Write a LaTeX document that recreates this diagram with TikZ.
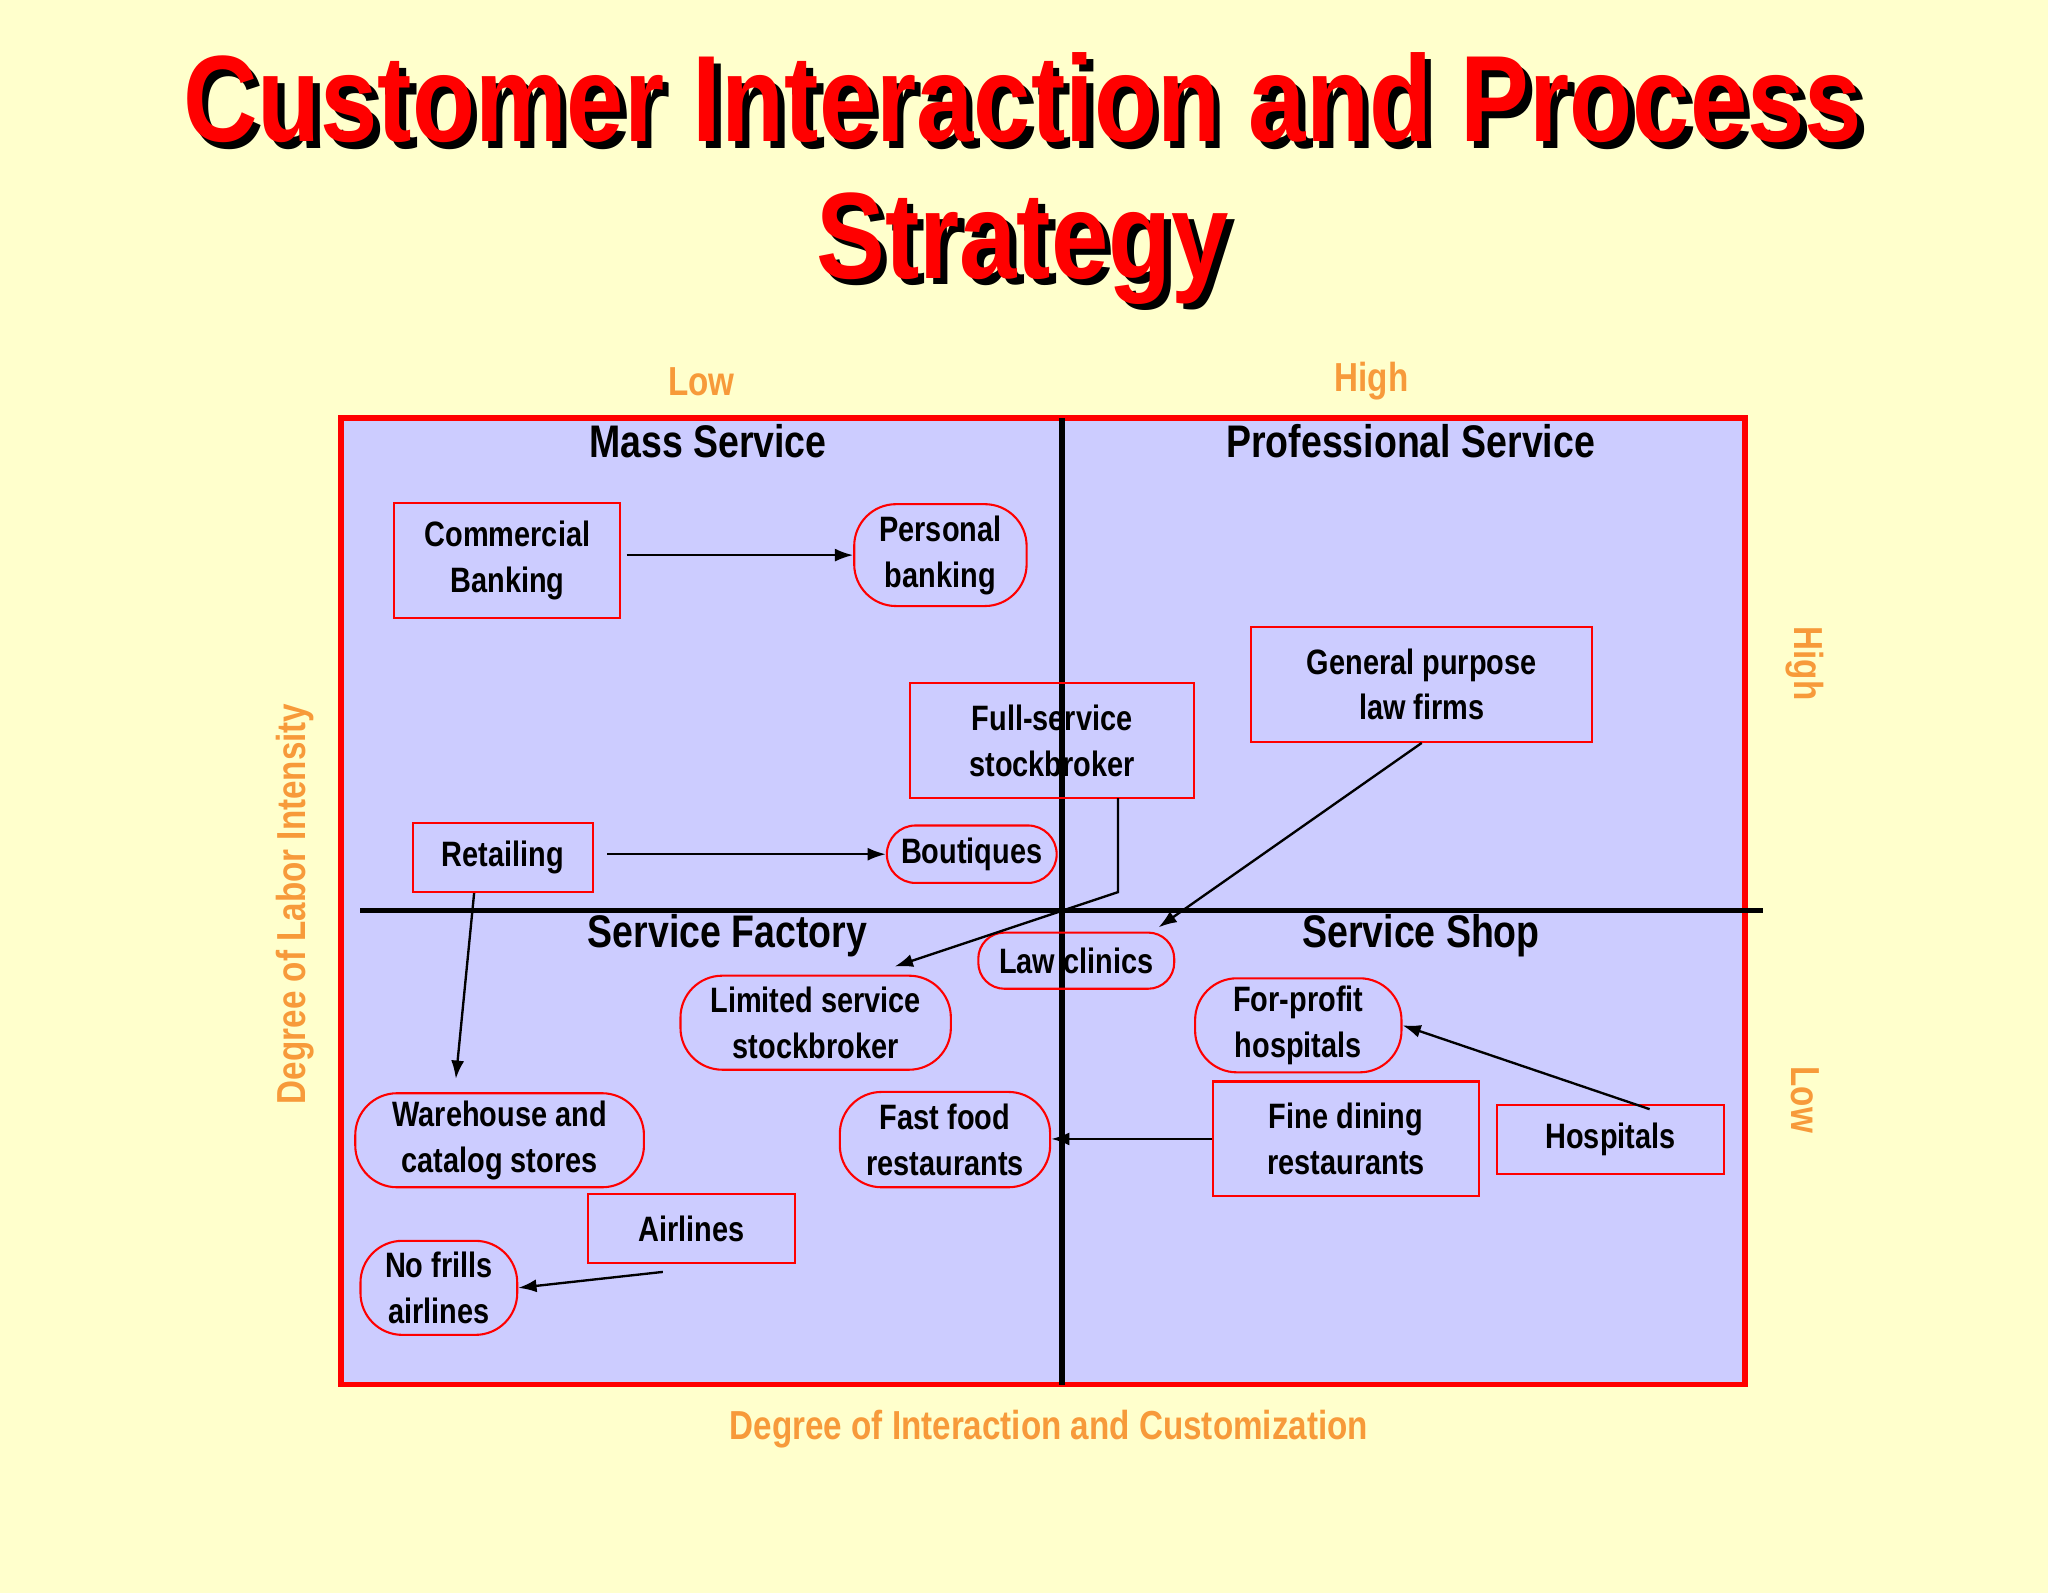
\documentclass[tikz,border=0pt]{standalone}
\usepackage{fontspec}
\setmainfont{Liberation Sans}[FakeStretch=0.82]
\newfontfamily\titlefont{Liberation Sans}[FakeStretch=0.84]
\usetikzlibrary{arrows.meta}
\definecolor{bg}{HTML}{FFFFCC}
\definecolor{lav}{HTML}{CCCCFF}
\definecolor{org}{HTML}{F79A3A}
\definecolor{tred}{HTML}{FF0000}
\tikzset{
 base/.style={draw=red, line width=0.8pt, align=center, inner sep=0pt, font=\fontsize{13.5}{17.5}\selectfont\bfseries},
 rbox/.style={base},
 obox/.style={base, rounded corners=16pt},
 arr/.style={-{Latex[length=7pt,width=5pt]}, line width=0.9pt},
 ax/.style={text=org, font=\fontsize{15.5}{18}\selectfont\bfseries},
 quad/.style={font=\fontsize{17.5}{20}\selectfont\bfseries},
 ttl/.style={font=\titlefont\fontsize{47}{50}\selectfont\bfseries}
}
\begin{document}
\begin{tikzpicture}[x=0.5pt,y=-0.5pt]
\fill[bg] (0,0) rectangle (1568,1220);
\useasboundingbox (0,0) rectangle (1568,1220);
% title
\node[ttl,text=black] (t1s) at (788,80) {Customer Interaction and Process};
\node[ttl,text=tred] (t1) at (783,75) {Customer Interaction and Process};
\node[ttl,text=black] (t2s) at (788,195) {Strategy};
\node[ttl,text=tred] (t2) at (783,190) {Strategy};
% frame
\draw[red, line width=2.2pt, fill=lav] (261,320) rectangle (1336,1060);
\draw[line width=2pt] (813,320) -- (813,1060);
\draw[line width=2pt] (276,697) -- (1350,697);
% axis labels
\node[ax] (lo) at (537,292) {Low};
\node[ax] (hi) at (1050,292) {High};
\node[ax,rotate=-90] (rhi) at (1382,508) {High};
\node[ax,rotate=-90] (rlo) at (1382,842) {Low};
\node[ax,rotate=90] (lab) at (226,692) {Degree of Labor Intensity};
\node[ax] (bl) at (803,1094) {Degree of Interaction and Customization};
% quadrants
\node[quad] (q1) at (542,338) {Mass Service};
\node[quad] (q2) at (1080,338) {Professional Service};
\node[quad] (q3) at (557,716) {Service Factory};
\node[quad] (q4) at (1088,716) {Service Shop};
% boxes
\node[rbox, minimum width=86.5pt, minimum height=44pt] (cb) at (388.5,429) {Commercial\\Banking};
\node[rbox, minimum width=108.5pt, minimum height=44pt] (fs) at (805.5,567) {Full-service\\stockbroker};
\node[rbox, minimum width=130.5pt, minimum height=44pt] (gp) at (1088.5,524) {General purpose\\law firms};
\node[rbox, minimum width=69pt, minimum height=26.5pt] (re) at (385,656.5) {Retailing};
\node[rbox, minimum width=79.5pt, minimum height=26.5pt] (ai) at (529.5,940.5) {Airlines};
\node[rbox, minimum width=101.5pt, minimum height=44pt] (fd) at (1030.5,872) {Fine dining\\restaurants};
\node[rbox, minimum width=87pt, minimum height=26.5pt] (ho) at (1233,872.5) {Hospitals};
\node[obox, minimum width=66pt, minimum height=39pt] (pb) at (720,425) {Personal\\banking};
\node[obox, rounded corners=11pt, minimum width=65pt, minimum height=22pt] (bo) at (744,654) {Boutiques};
\node[obox, rounded corners=10pt, minimum width=75pt, minimum height=21.5pt] (lc) at (824,735.5) {Law clinics};
\node[obox, minimum width=103.5pt, minimum height=36pt] (ls) at (624.5,783) {Limited service\\stockbroker};
\node[obox, minimum width=79pt, minimum height=36pt] (fp) at (994,785) {For-profit\\hospitals};
\node[obox, minimum width=110.5pt, minimum height=36pt] (wc) at (382.5,873) {Warehouse and\\catalog stores};
\node[obox, minimum width=80.5pt, minimum height=36.5pt] (ff) at (723.5,872.5) {Fast food\\restaurants};
\node[obox, minimum width=60pt, minimum height=36pt] (nf) at (336,986) {No frills\\airlines};
% arrows
\draw[arr] ([xshift=2pt]pb.west -| cb.east) -- (pb.west);
\draw[arr] ([xshift=5pt]bo.west -| re.east) -- (bo.west);
\draw[arr] ([xshift=-11pt]re.south) -- (349,826);
\coordinate (fsb) at (856,611);
\coordinate (fsk) at (856,683);
\draw[arr] (fsb) -- (fsk) -- (685,740);
\draw[arr] (gp.south) -- (887,710);
\draw[arr] ([xshift=15pt,yshift=-2pt]ho.north) -- (fp.east);
\draw[arr] (fd.west) -- (fd.west -| ff.east);
\draw[arr] ([xshift=-11pt,yshift=-3pt]ai.south) -- (nf.east);
\end{tikzpicture}
\end{document}
